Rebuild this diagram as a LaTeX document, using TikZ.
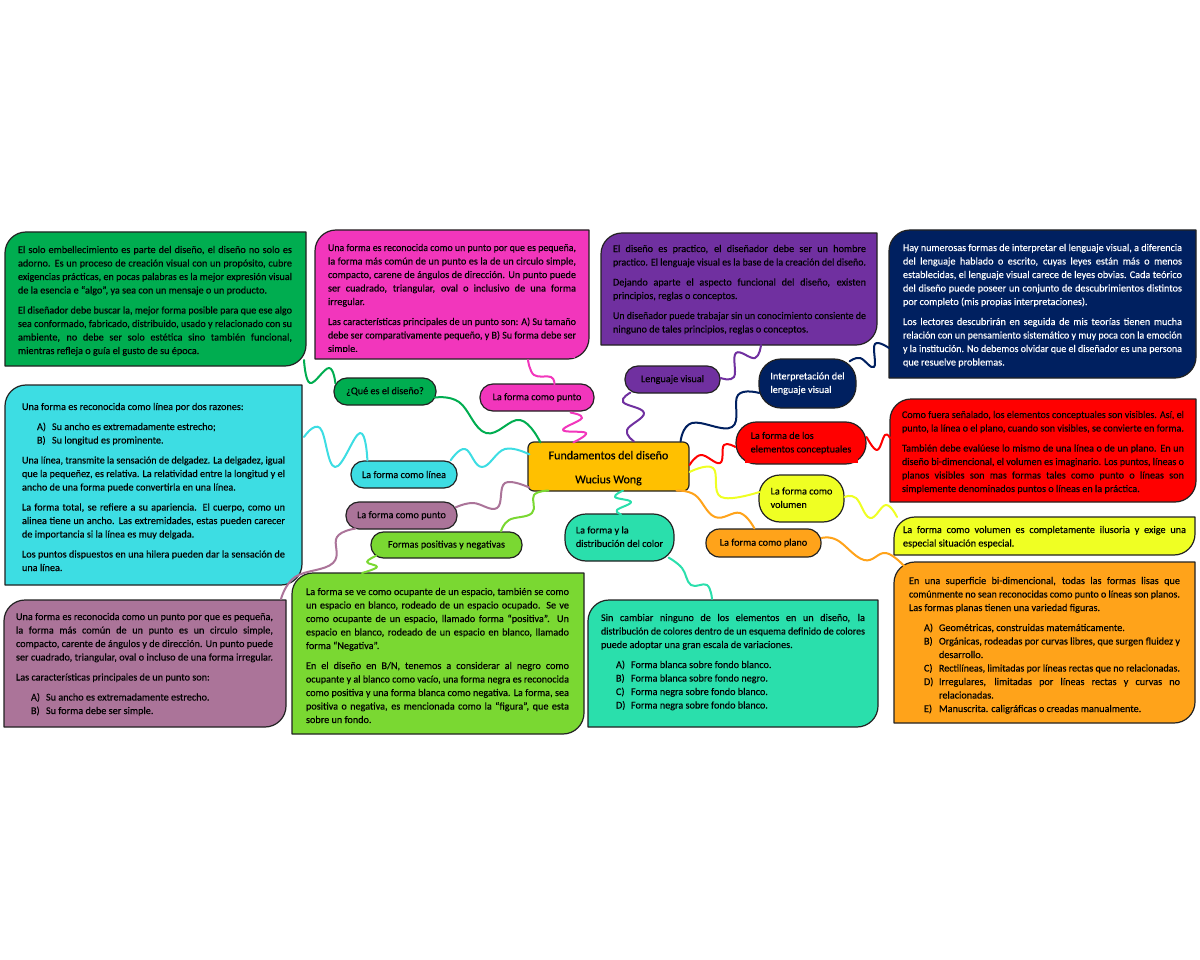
\documentclass[tikz,border=0pt]{standalone}
\usepackage{fontspec}
\usepackage{graphicx}
\setmainfont{Carlito}[FakeBold=0.25]
\definecolor{cgreen}{HTML}{00AD50}
\definecolor{cmag}{HTML}{F236BC}
\definecolor{cpur}{HTML}{7030A0}
\definecolor{cnavy}{HTML}{002060}
\definecolor{cred}{HTML}{FF0000}
\definecolor{cyel}{HTML}{EFFF23}
\definecolor{cora}{HTML}{FFA31A}
\definecolor{ccy}{HTML}{3DDDE3}
\definecolor{cmau}{HTML}{AB7499}
\definecolor{clg}{HTML}{7AD832}
\definecolor{cteal}{HTML}{2ADFAC}
\definecolor{cgold}{HTML}{FFC000}
\definecolor{edge}{HTML}{222222}
\tikzset{
  x=1pt,y=-1pt,
  wire/.style={line width=2pt,line cap=round,line join=round},
  boxline/.style={draw=edge,line width=1.2pt,line join=round},
  pilln/.style={rectangle,boxline,inner sep=0pt,align=left,font=\fontsize{10.2}{13.5}\selectfont},
  boxn/.style={rectangle,inner sep=0pt,outer sep=0pt,anchor=north west,font=\fontsize{10.2}{13.5}\selectfont},
}
% fitted line of given width
\newcommand\fitj[2]{\setbox0=\hbox{#2}\ifdim\wd0>#1\relax\pgfmathsetmacro\fr{\the\dimexpr#1\relax/\the\wd0}\scalebox{\fr}[1]{\box0}\else\hbox to #1{#2}\fi}
\newcommand\fitl[2]{\setbox0=\hbox{#2}\ifdim\wd0>#1\relax\pgfmathsetmacro\fr{\the\dimexpr#1\relax/\the\wd0}\scalebox{\fr}[1]{\box0}\else\hbox to #1{#2\hfil}\fi}
\newcommand\T[1]{\vskip\dimexpr#1pt-\yz pt-5.45pt\relax\nointerlineskip}
\newcommand\G{\vskip6.5pt\relax}
\newcommand\J[1]{\hbox{\strut\hskip\pad\fitj{\tw}{#1}}}
\newcommand\Lf[1]{\hbox{\strut\hskip\pad\fitl{\tw}{#1}}}
\newcommand\Ia[2]{\hbox{\strut\hskip\pad\hskip15pt\hbox to15pt{#1\hfil}\fitl{\dimexpr\tw-30pt\relax}{#2}}}
\newcommand\Ij[2]{\hbox{\strut\hskip\pad\hskip15pt\hbox to15pt{#1\hfil}\fitj{\dimexpr\tw-30pt\relax}{#2}}}
\newcommand\Drop[2]{\raisebox{-#1pt}{\begin{tabular}{@{}l@{}}#2\end{tabular}}}
% name x0 y0 x1 y1 colour textleft textright body
\newcommand\dbox[9]{%
  \def\yz{#3}\def\pad{\dimexpr#7pt-#2pt\relax}\def\tw{\dimexpr#8pt-#7pt\relax}%
  \def\RR{21}%
  \draw[boxline,fill=#6] (#2,#5) -- (#2,#3+\RR) .. controls (#2,#3+.45*\RR) and (#2+.45*\RR,#3) .. (#2+\RR,#3)
     -- (#4,#3) -- (#4,#5-\RR) .. controls (#4,#5-.45*\RR) and (#4-.45*\RR,#5) .. (#4-\RR,#5) -- cycle;
  \node[boxn] (#1) at (#2,#3) {\vbox to\dimexpr#5pt-#3pt\relax{\hbox to\dimexpr#4pt-#2pt\relax{}#9\vfil}};
}
% name x0 y0 x1 y1 colour radius text
\newcommand\pill[8]{%
  \node[pilln,fill=#6,rounded corners=#7pt,minimum width=#4pt-#2pt,minimum height=#5pt-#3pt] (#1) at ({(#2+#4)/2},{(#3+#5)/2}) {#8};
}
\begin{document}
\begin{tikzpicture}
\useasboundingbox (0,0) rectangle (1200,960);
\fill[white] (0,0) rectangle (1200,960);

\dbox{green}{5}{232}{306}{366}{cgreen}{18}{292}{\T{249}
\J{El solo embellecimiento es parte del diseño, el diseño no solo es}
\J{adorno. Es un proceso de creación visual con un propósito, cubre}
\J{exigencias prácticas, en pocas palabras es la mejor expresión visual}
\Lf{de la esencia e “algo”, ya sea con un mensaje o un producto.}\G
\J{El diseñador debe buscar la, mejor forma posible para que ese algo}
\J{sea conformado, fabricado, distribuido, usado y relacionado con su}
\J{ambiente, no debe ser solo estética sino también funcional,}
\Lf{mientras refleja o guía el gusto de su época.}}

\dbox{magenta}{315}{230}{589}{359}{cmag}{328}{576}{\T{247}
\J{Una forma es reconocida como un punto por que es pequeña,}
\J{la forma más común de un punto es la de un circulo simple,}
\J{compacto, carene de ángulos de dirección. Un punto puede}
\J{ser cuadrado, triangular, oval o inclusivo de una forma}
\Lf{irregular.}\G
\J{Las características principales de un punto son: A) Su tamaño}
\J{debe ser comparativamente pequeño, y B) Su forma debe ser}
\Lf{simple.}}
\fill[cmag] (322,351.5) rectangle (575,358.2);

\dbox{purple}{601}{233}{877}{345}{cpur}{613}{866}{\T{248}
\J{El diseño es practico, el diseñador debe ser un hombre}
\J{practico. El lenguaje visual es la base de la creación del diseño.}\G
\J{Dejando aparte el aspecto funcional del diseño, existen}
\Lf{principios, reglas o conceptos.}\G
\J{Un diseñador puede trabajar sin un conocimiento consiente de}
\Lf{ninguno de tales principios, reglas o conceptos.}}

\dbox{navy}{889}{230}{1196}{378}{cnavy}{903}{1182}{\color{white}\T{247}
\J{Hay numerosas formas de interpretar el lenguaje visual, a diferencia}
\J{del lenguaje hablado o escrito, cuyas leyes están más o menos}
\J{establecidas, el lenguaje visual carece de leyes obvias. Cada teórico}
\J{del diseño puede poseer un conjunto de descubrimientos distintos}
\Lf{por completo (mis propias interpretaciones).}\G
\J{Los lectores descubrirán en seguida de mis teorías tienen mucha}
\J{relación con un pensamiento sistemático y muy poca con la emoción}
\J{y la institución. No debemos olvidar que el diseñador es una persona}
\Lf{que resuelve problemas.}}

\dbox{redb}{890}{399}{1196}{502}{cred}{902}{1184}{\T{414}
\J{Como fuera señalado, los elementos conceptuales son visibles. Así, el}
\J{punto, la línea o el plano, cuando son visibles, se convierte en forma.}\G
\J{También debe evalúese lo mismo de una línea o de un plano. En un}
\J{diseño bi-dimencional, el volumen es imaginario. Los puntos, líneas o}
\J{planos visibles son mas formas tales como punto o líneas son}
\Lf{simplemente denominados puntos o líneas en la práctica.}}

\dbox{ylw}{894}{517}{1195}{555}{cyel}{903}{1186}{\T{529}
\J{La forma como volumen es completamente ilusoria y exige una}
\Lf{especial situación especial.}}

\dbox{orb}{894}{562}{1195}{723}{cora}{909}{1180}{\T{580}
\J{En una superficie bi-dimencional, todas las formas lisas que}
\J{comúnmente no sean reconocidas como punto o líneas son planos.}
\Lf{Las formas planas tienen una variedad figuras.}\G
\Ia{A)}{Geométricas, construidas matemáticamente.}
\Ij{B)}{Orgánicas, rodeadas por curvas libres, que surgen fluidez y}
\Ia{}{desarrollo.}
\Ij{C)}{Rectilíneas, limitadas por líneas rectas que no relacionadas.}
\Ij{D)}{Irregulares, limitadas por líneas rectas y curvas no}
\Ia{}{relacionadas.}
\Ia{E)}{Manuscrita. caligráficas o creadas manualmente.}}

\dbox{cyanb}{5}{385}{302}{585}{ccy}{22}{285}{\T{406}
\Lf{Una forma es reconocida como línea por dos razones:}\G
\Ia{A)}{Su ancho es extremadamente estrecho;}
\Ia{B)}{Su longitud es prominente.}\G
\J{Una línea, transmite la sensación de delgadez. La delgadez, igual}
\J{que la pequeñez, es relativa. La relatividad entre la longitud y el}
\Lf{ancho de una forma puede convertirla en una línea.}\G
\J{La forma total, se refiere a su apariencia. El cuerpo, como un}
\J{alinea tiene un ancho. Las extremidades, estas pueden carecer}
\Lf{de importancia si la línea es muy delgada.}\G
\J{Los puntos dispuestos en una hilera pueden dar la sensación de}
\Lf{una línea.}}

\dbox{mauve}{4}{600}{286}{727}{cmau}{16}{273}{\T{616}
\J{Una forma es reconocida como un punto por que es pequeña,}
\J{la forma más común de un punto es un circulo simple,}
\J{compacto, carente de ángulos y de dirección.  Un punto puede}
\J{ser cuadrado, triangular, oval o incluso de una forma irregular.}\G
\Lf{Las características principales de un punto son:}\G
\Ia{A)}{Su ancho es extremadamente estrecho.}
\Ia{B)}{Su forma debe ser simple.}}

\dbox{lgb}{292}{573}{584}{734}{clg}{306}{569}{\T{591}
\J{La forma se ve como ocupante de un espacio, también se como}
\J{un espacio en blanco, rodeado de un espacio ocupado. Se ve}
\J{como ocupante de un espacio, llamado forma “positiva”. Un}
\J{espacio en blanco, rodeado de un espacio en blanco, llamado}
\Lf{forma “Negativa”.}\G
\J{En el diseño en B/N, tenemos a considerar al negro como}
\J{ocupante y al blanco como vacío, una forma negra es reconocida}
\J{como positiva y una forma blanca como negativa. La forma, sea}
\J{positiva o negativa, es mencionada como la “figura”, que esta}
\Lf{sobre un fondo.}}

\dbox{tb}{588}{600}{878}{727}{cteal}{601}{865}{\T{617}
\J{Sin cambiar ninguno de los elementos en un diseño, la}
\J{distribución de colores dentro de un esquema definido de colores}
\Lf{puede adoptar una gran escala de variaciones.}\G
\Ia{A)}{Forma blanca sobre fondo blanco.}
\Ia{B)}{Forma blanca sobre fondo negro.}
\Ia{C)}{Forma negra sobre fondo blanco.}
\Ia{D)}{Forma negra sobre fondo blanco.}}

\pill{qd}{334}{378}{436}{405}{cgreen}{13}{¿Qué es el diseño?}
\pill{pp}{480}{384}{594}{411}{cmag}{13}{La forma como punto}
\pill{li}{351}{461}{457}{488}{ccy}{13}{La forma como línea}
\pill{mp}{346}{502}{457}{529}{cmau}{13}{La forma como punto}
\pill{fp}{371}{532}{522}{558}{clg}{12.5}{Formas positivas y negativas}
\pill{dc}{565}{514}{674}{561}{cteal}{21}{\Drop{8}{La forma y la\\distribución del color}}
\pill{pl}{706}{529}{821}{557}{cora}{13.5}{La forma como plano}
\pill{vo}{759}{475}{844}{522}{cyel}{21}{\Drop{3}{La forma como\\volumen}}
\pill{el}{736}{422}{866}{464}{cred}{20.5}{\Drop{10}{La forma de los\\elementos conceptuales}}
\fill[cred] (745,456.5) rectangle (858,463);
\pill{il}{759}{359}{856}{408}{cnavy}{22}{\Drop{6}{\textcolor{white}{Interpretación del}\\\textcolor{white}{lenguaje visual}}}
\pill{lv}{625}{366}{720}{393}{cpur}{13}{Lenguaje visual}
\node[pilln,fill=cgold,rounded corners=6pt,minimum width=161pt,minimum height=49pt,font=\fontsize{12}{24}\selectfont] (cen) at (608.5,466.5) {\raisebox{-5pt}{\begin{tabular}{@{}c@{}}Fundamentos del diseño\\Wucius Wong\end{tabular}}};

\draw[wire,cgreen] plot[smooth,tension=.7] coordinates {([shift={(-2,-6)}]green.south east) (310,383) (329,368) ([shift={(2,6)}]qd.north west)};
\draw[wire,cgreen] plot[smooth,tension=.7] coordinates {([shift={(-2,-8)}]qd.south east) (459,402) (486,433) (520,420) ([shift={(13,1)}]cen.north west)};
\draw[wire,cmag] plot[smooth,tension=.7] coordinates {([shift={(-61,1)}]magenta.south east) (534,375) (551,377) ([shift={(75,1)}]pp.north west)};
\draw[wire,cmag] plot[smooth,tension=.7] coordinates {([shift={(-24,1)}]pp.south east) (582,418) (563,430) (586,433) ([shift={(46,1)}]cen.north west)};
\draw[wire,ccy] plot[smooth,tension=.7] coordinates {([shift={(2,52)}]cyanb.north east) (320,428) (335,467) (360,433) ([shift={(17,0)}]li.north west)};
\draw[wire,ccy] plot[smooth,tension=.7] coordinates {([shift={(-7,0)}]li.north east) (465,449) (482,467) (505,449) ([shift={(2,13)}]cen.north west)};
\draw[wire,cmau] plot[smooth,tension=.7] coordinates {([shift={(-2,6)}]mp.north east) (473,503) (497,508) (505,483) ([shift={(2,-4)}]cen.south west)};
\draw[wire,cmau] plot[smooth,tension=.7] coordinates {([shift={(10,-1)}]mp.south west) (337,537) (333,563) (295,577) ([shift={(-5,-1)}]mauve.north east)};
\draw[wire,clg] plot[smooth,tension=.7] coordinates {([shift={(54.5,0)}]fp.north) (509,520) (532,513) (534,495) ([shift={(21,-1)}]cen.south west)};
\draw[wire,clg] plot[smooth,tension=.7] coordinates {([shift={(6,-3)}]fp.south west) (367,562) (377,567) ([shift={(70,0)}]lgb.north west)};
\draw[wire,cpur] plot[smooth,tension=.7] coordinates {([shift={(25.5,0)}]cen.north) (627,430) (644,413) (623,402) ([shift={(6,-1)}]lv.south west)};
\draw[wire,cpur] plot[smooth,tension=.7] coordinates {([shift={(0,-1.5)}]lv.east) (734,377) (736,353) (755,358) ([shift={(-116,0)}]purple.south east)};
\draw[wire,cnavy] plot[smooth,tension=.7] coordinates {([shift={(-9,0)}]cen.north east) (692,423) (732,427) (738,395) ([shift={(1,9.5)}]il.west)};
\draw[wire,cnavy] plot[smooth,tension=.7] coordinates {([shift={(-7,3)}]il.north east) (860,358) (874,367) (875,344) ([shift={(0,-30)}]navy.south west)};
\draw[wire,cred] plot[smooth,tension=.7] coordinates {([shift={(0,-1.5)}]cen.east) (701,455) (720,463) (724,445) ([shift={(0,4)}]el.west)};
\draw[wire,cred] plot[smooth,tension=.7] coordinates {([shift={(0,-6)}]el.east) (877,450) (885,435) ([shift={(0,-12.5)}]redb.west)};
\draw[wire,cyel] plot[smooth,tension=.7] coordinates {([shift={(0,5.5)}]cen.east) (713,468) (721,497) ([shift={(1,-6.5)}]vo.west)};
\draw[wire,cyel] plot[smooth,tension=.7] coordinates {([shift={(0,-1.5)}]vo.east) (856,498) (870,518) (886,505) ([shift={(3,0)}]ylw.north west)};
\draw[wire,cora] plot[smooth,tension=.7] coordinates {([shift={(-13,-1)}]cen.south east) (695,495) (715,517) (740,513) ([shift={(49,0)}]pl.north west)};
\draw[wire,cora] plot[smooth,tension=.7] coordinates {([shift={(0,-5)}]pl.east) (837,540) (864,560) (886,553) ([shift={(11,5)}]orb.north west)};
\draw[wire,cteal] plot[smooth,tension=.7] coordinates {([shift={(14.5,-1)}]cen.south) (615,497) (631,502) (617,510) ([shift={(1.5,1)}]dc.north)};
\draw[wire,cteal] plot[smooth,tension=.7] coordinates {([shift={(-6,-4)}]dc.south east) (682,568) (691,585) (707,585) ([shift={(124,-1)}]tb.north west)};
\end{tikzpicture}
\end{document}
